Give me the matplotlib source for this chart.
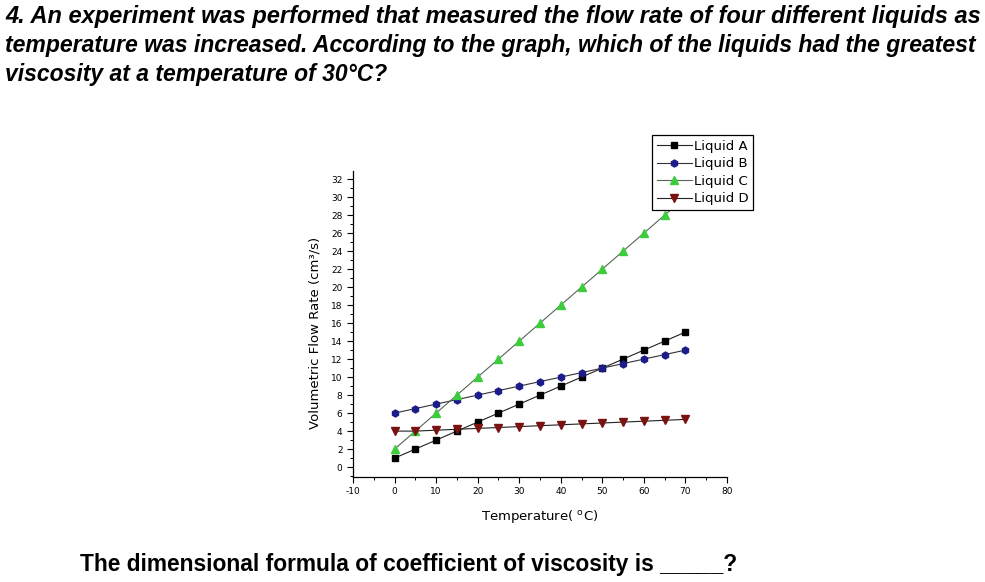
import numpy as np
import matplotlib.pyplot as plt
from matplotlib.ticker import MultipleLocator

plt.rcParams['axes.unicode_minus'] = False

temp = [0, 5, 10, 15, 20, 25, 30, 35, 40, 45, 50, 55, 60, 65, 70]
liquid_a = [1, 2, 3, 4, 5, 6, 7, 8, 9, 10, 11, 12, 13, 14, 15]
liquid_b = [6, 6.5, 7, 7.5, 8, 8.5, 9, 9.5, 10, 10.5, 11, 11.5, 12, 12.5, 13]
liquid_c = [2, 4, 6, 8, 10, 12, 14, 16, 18, 20, 22, 24, 26, 28, 30]
liquid_d = [4, 4, 4.1, 4.2, 4.3, 4.4, 4.5, 4.6, 4.7, 4.8, 4.9, 5.0, 5.1, 5.2, 5.3]

question = ["4. An experiment was performed that measured the flow rate of four different liquids as",
            "temperature was increased. According to the graph, which of the liquids had the greatest",
            "viscosity at a temperature of 30\u00b0C?"]
bottom_text = "The dimensional formula of coefficient of viscosity is _____?"

fig = plt.figure(figsize=(9.85, 5.82), dpi=100)

# question text on top (the original is justified, so size each line)
q_sizes = [17.0, 16.6, 16.5]
for i, line in enumerate(question):
    fig.text(0.005, 1 - (17 + i * 28.5) / 582, line, ha='left', va='center',
             fontsize=q_sizes[i], fontweight='bold', fontstyle='italic',
             family='Liberation Sans')

fig.text(80 / 985, 1 - 565 / 582, bottom_text, ha='left', va='center',
         fontsize=16.4, fontweight='bold', family='Liberation Sans')

ax = fig.add_axes([353 / 985, 105 / 582, 374 / 985, 306 / 582])

series = [
    ("Liquid A", liquid_a, 's', 'black', '#222222', 4.0),
    ("Liquid B", liquid_b, 'h', '#1c1c8a', '#333333', 5.0),
    ("Liquid C", liquid_c, '^', '#3ccc3c', '#556655', 5.5),
    ("Liquid D", liquid_d, 'v', '#7a1212', '#222222', 5.5),
]
handles = []
for name, vals, mk, mcol, lcol, ms in series:
    h, = ax.plot(temp, vals, color=lcol, lw=0.8, marker=mk, markersize=ms,
                 markerfacecolor=mcol, markeredgecolor=mcol, label=name)
    handles.append(h)

ax.set_xlim(-10, 80)
ax.set_ylim(-1.1, 32.9)
ax.spines['top'].set_visible(False)
ax.spines['right'].set_visible(False)
for s in ['left', 'bottom']:
    ax.spines[s].set_linewidth(0.9)

ax.xaxis.set_major_locator(MultipleLocator(10))
ax.xaxis.set_minor_locator(MultipleLocator(5))
ax.yaxis.set_minor_locator(MultipleLocator(1))
ax.set_yticks(np.arange(0, 33, 2))
ax.tick_params(which='major', direction='out', length=4, width=0.8, labelsize=6.5)
ax.tick_params(which='minor', direction='out', length=2, width=0.7)

ax.set_xlabel("Temperature( $^{\\rm o}$C)", fontsize=9.5, labelpad=8)
ax.set_ylabel("Volumetric Flow Rate (cm\u00b3/s)", fontsize=9.5)
ax.yaxis.set_label_coords(-0.083, 0.47)

leg = fig.legend(handles=handles, loc='upper left',
                 bbox_to_anchor=(652 / 985, 1 - 135 / 582),
                 fontsize=9.5, frameon=True, fancybox=False, framealpha=1,
                 edgecolor='black', handlelength=2.7, handletextpad=0.15,
                 borderpad=0.35, labelspacing=0.35, borderaxespad=0)
leg.get_frame().set_linewidth(0.9)

fig.savefig("out.png", dpi=100)
